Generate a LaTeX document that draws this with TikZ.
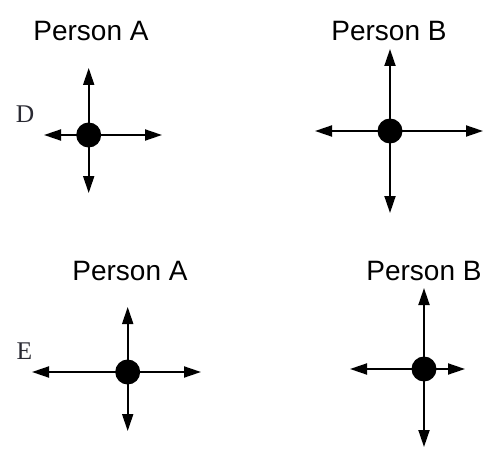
\documentclass[tikz,border=0pt]{standalone}
\usepackage{fontspec}
\setmainfont{Liberation Sans}
\newfontfamily\serifletter{Liberation Serif}
\usetikzlibrary{arrows.meta}
\definecolor{lettergray}{HTML}{2A2A33}
\begin{document}
\begin{tikzpicture}[x=1pt,y=-1pt,
    dot/.style={circle,fill=black,inner sep=0pt,minimum size=25pt},
    vec/.style={line width=1.9pt,-{Triangle[length=17pt,width=11pt]}},
    person/.style={font=\fontsize{28}{30}\selectfont,inner sep=0pt},
    case/.style={font=\serifletter\fontsize{25.5}{27}\selectfont,text=lettergray,inner sep=0pt}]
  \useasboundingbox (0,0) rectangle (501,460);
  % labels
  \draw
    (91,31) node[person] (la){Person A}
    (389,31) node[person] (lb){Person B}
    (130,271) node[person] (lc){Person A}
    (424,271) node[person] (ld){Person B}
    (25,114.5) node[case] (d){D}
    (24.5,351) node[case] (e){E};
  % centres and tips
  \path
    (88.7,135) coordinate (a)
    (88.7,68) coordinate (an) (88.7,193) coordinate (as)
    (44,135) coordinate (aw) (162,135) coordinate (ae)
    (390,131) coordinate (b)
    (390,49) coordinate (bn) (390,213) coordinate (bs)
    (315,131) coordinate (bw) (483,131) coordinate (be)
    (127.7,372) coordinate (c)
    (127.7,307) coordinate (cn) (127.7,431) coordinate (cs)
    (32,372) coordinate (cw) (201,372) coordinate (ce)
    (424,369) coordinate (p)
    (424,288) coordinate (pn) (424,447) coordinate (ps)
    (350,369) coordinate (pw) (465,369) coordinate (pe);
  \begin{scope}[vec]
    \draw (a) to (an); \draw (a) to (as); \draw (a) to (aw); \draw (a) to (ae);
    \draw (b) to (bn); \draw (b) to (bs); \draw (b) to (bw); \draw (b) to (be);
    \draw (c) to (cn); \draw (c) to (cs); \draw (c) to (cw); \draw (c) to (ce);
    \draw (p) to (pn); \draw (p) to (ps); \draw (p) to (pw); \draw (p) to (pe);
  \end{scope}
  \node[dot] (da) at (a) {};
  \node[dot] (db) at (b) {};
  \node[dot] (dc) at (c) {};
  \node[dot] (dp) at (p) {};
\end{tikzpicture}
\end{document}
